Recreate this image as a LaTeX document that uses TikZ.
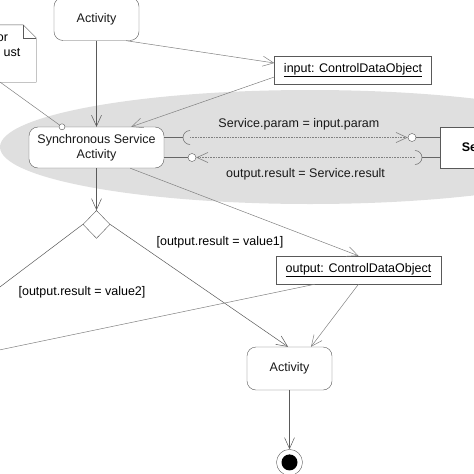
\documentclass[tikz,border=0pt]{standalone}
\usepackage{fontspec}
\setmainfont{Liberation Sans}
\usetikzlibrary{positioning,shapes.geometric,arrows.meta}

\begin{document}
\begin{tikzpicture}[x=1pt,y=-1pt,font=\fontsize{12.5}{15}\selectfont,
  act/.style={rectangle,rounded corners=9pt,draw=black!65,fill=white,text=black!90,minimum width=85pt,minimum height=43pt},
  obj/.style={rectangle,draw=black!65,fill=white,inner xsep=9.5pt,minimum height=28pt},
  svcbox/.style={rectangle,draw=black!65,fill=white,minimum width=88pt,minimum height=41pt},
  decision/.style={diamond,draw=black!65,fill=white,minimum width=27pt,minimum height=28pt,inner sep=0pt},
  finalnode/.style={circle,draw=black!65,fill=white,minimum size=26pt,inner sep=0pt},
  ball/.style={circle,draw=black!65,fill=white,minimum size=8pt,inner sep=0pt},
  region/.style={ellipse,fill=gray!25,minimum width=620pt,minimum height=114pt},
  tip/.style={-{Straight Barb[length=11pt,width=10pt]}},
  ctl/.style={draw=black!65,line width=.5pt},
  oflow/.style={draw=black!50,line width=.5pt},
  port/.style={draw=black!60,line width=.5pt},
  iface/.style={draw=black!50,line width=.6pt,densely dotted}]

\useasboundingbox (0,0) rectangle (474,474);
\clip (0,0) rectangle (474,474);

\node[region] (region) at (310,147) {};

\node[minimum width=96pt,minimum height=57pt,inner sep=0pt] (note) at (-12,53.5) {};
\draw[draw=black!65,fill=white] (note.south west) -- (note.north west) -- ([xshift=-13pt]note.north east) -- ([yshift=-13pt]note.north east) -- (note.south east) -- cycle;
\draw[draw=black!65] ([xshift=-13pt]note.north east) |- ([yshift=-13pt]note.north east);
\node (noteA) at (2.5,38) {or};
\node (noteB) at (12,53) {ust};

\node[act] (act1) at (96.5,19) {Activity};
\node[act,align=center,minimum width=135pt,minimum height=41pt] (sync) at (96.5,147.5) {Synchronous Service\\Activity};
\node[obj] (input) at (353,70) {\underline{input: ControlDataObject}};
\node[obj] (output) at (358.5,270) {\underline{output: ControlDataObject}};
\node[svcbox] (svc) at (484,147.5) {\textbf{Service}};
\node[decision,below=42pt of sync] (dec) {};
\node[act] (act2) at (289.5,368.5) {Activity};
\node[finalnode,below=59pt of act2] (final) {};
\fill[black] (final) circle[radius=8pt];

\node[ball,minimum size=6pt] (pnote) at ([xshift=-34.5pt]sync.north) {};
\coordinate (sin) at (190,137.5);
\node[ball] (pin) at (412,137.5) {};
\node[ball] (pout) at (192,157.5) {};
\coordinate (sout) at (415,157.5);
\coordinate (outA) at (-20,302);
\coordinate (outB) at (-20,354);

\draw[ctl,tip] (act1) -- (sync);
\draw[oflow,tip] ([xshift=-13pt]act1.south east) -- ([yshift=7pt]input.west);
\draw[oflow,tip] ([yshift=-7pt]input.west) -- ([xshift=-33pt]sync.north east);
\draw[oflow,tip] ([xshift=-34pt]sync.south east) -- (output.north);
\draw[ctl,tip] (sync) -- (dec);
\draw[ctl,tip] (dec.east) -- ([xshift=-1.5pt]act2.north);
\draw[ctl] (dec.west) -- (outA);
\draw[oflow] ([xshift=-43.5pt]output.south) -- (outB);
\draw[oflow,tip] (output.south) -- ([xshift=21.5pt]act2.north);
\draw[ctl,tip] (act2) -- (final);
\draw[oflow] ([xshift=-36pt]note.south east) -- (pnote);

\draw[port] ([yshift=10pt]sync.east) -- ([xshift=-7pt]sin);
\draw[port] ([yshift=7pt]sin) arc[start angle=90,end angle=270,radius=7pt];
\draw[iface,tip] (sin) -- node[above=4pt,text=black!90]{Service.param = input.param} (pin);
\draw[port] (pin) -- (pin -| svc.west);
\draw[port] ([yshift=-10pt]sync.east) -- (pout);
\draw[iface,tip] (sout) -- node[below=7pt,text=black!90]{output.result = Service.result} (pout);
\draw[port] ([yshift=7pt]sout) arc[start angle=90,end angle=-90,radius=7pt];
\draw[port] ([xshift=7pt]sout) -- (sout -| svc.west);

\node (g1) at (220,242) {[output.result = value1]};
\node (g2) at (82,292) {[output.result = value2]};

\end{tikzpicture}
\end{document}
